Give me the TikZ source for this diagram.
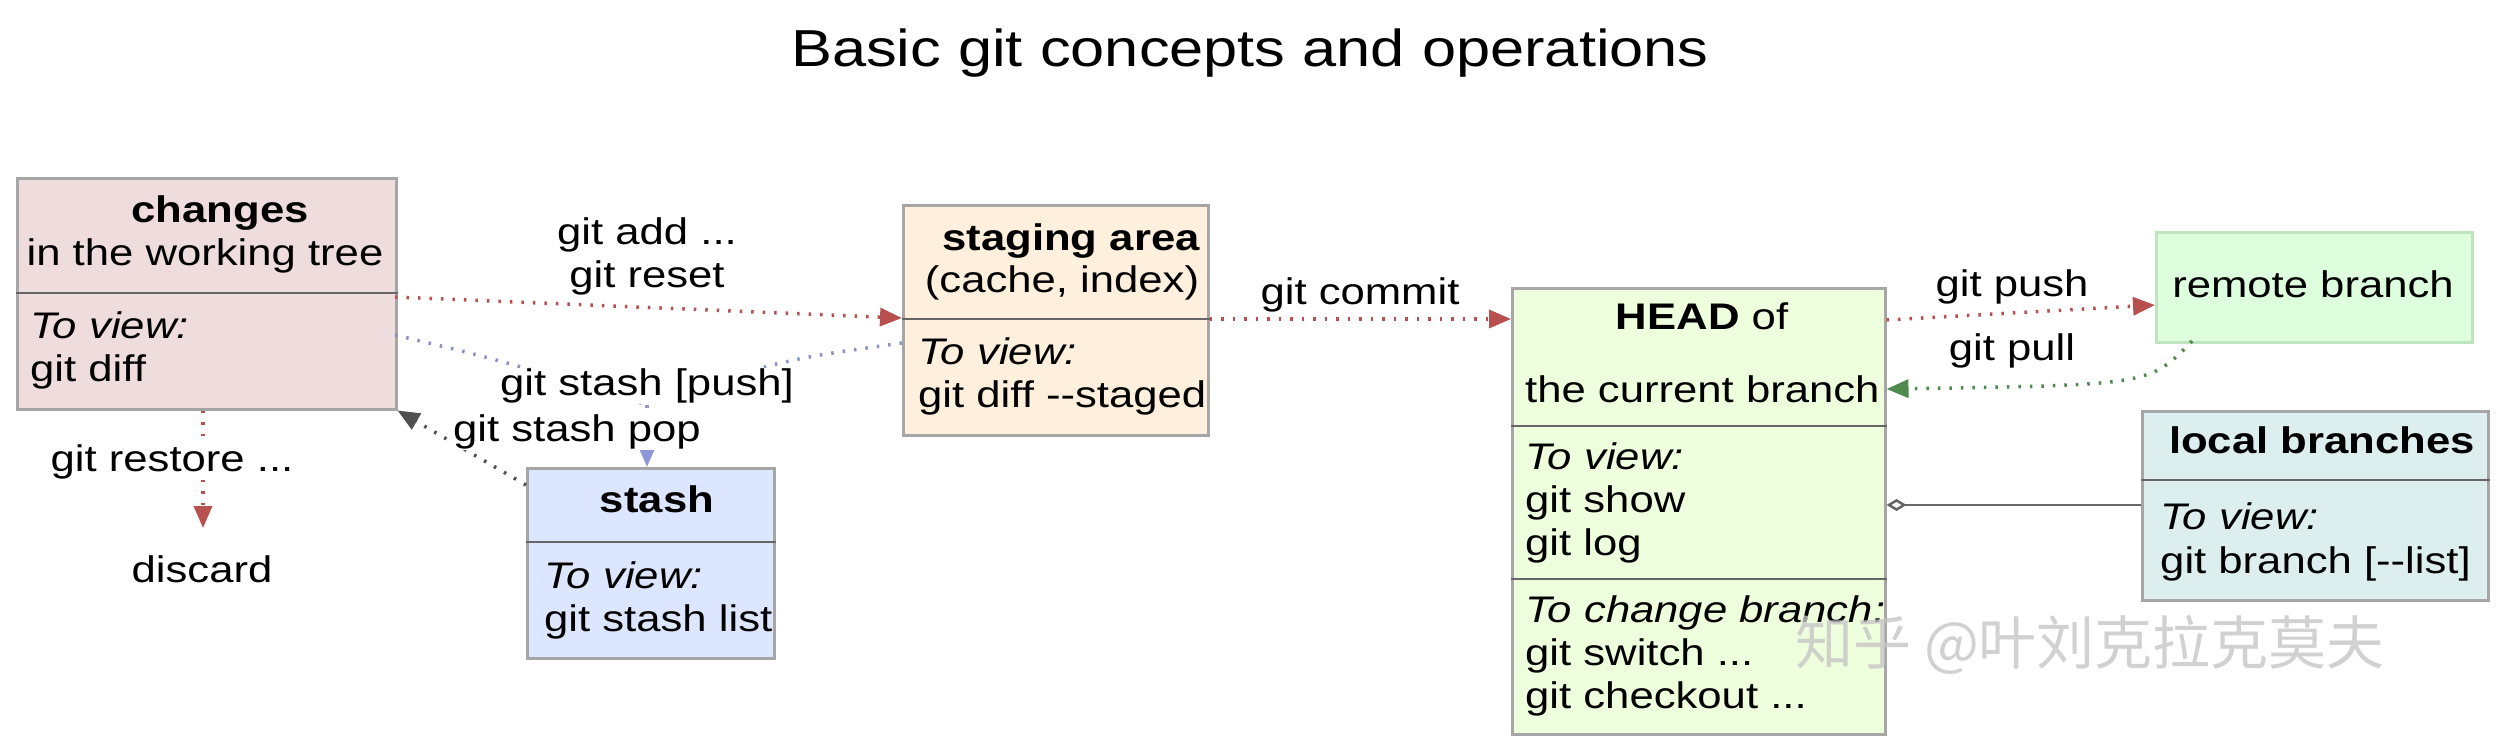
\documentclass[tikz,border=0pt]{standalone}
\usepackage{fontspec}
\setmainfont[FakeStretch=1.18]{Liberation Sans}
\newfontfamily\cjk{Noto Sans CJK SC}
\usetikzlibrary{arrows.meta}
\definecolor{redc}{HTML}{B85050}
\definecolor{bluec}{HTML}{8C96D8}
\definecolor{greenc}{HTML}{4E8A4E}
\definecolor{darkc}{HTML}{505050}
\definecolor{fch}{RGB}{239,221,221}
\definecolor{fst}{RGB}{255,239,221}
\definecolor{fsh}{RGB}{221,230,255}
\definecolor{fhd}{RGB}{238,255,221}
\definecolor{frm}{RGB}{221,255,221}
\definecolor{drm}{RGB}{190,230,190}
\definecolor{flc}{RGB}{221,238,238}
\tikzset{
  box/.style={draw=#1, line width=2.5pt, anchor=north west, inner sep=0},
  dividr/.style={draw=gray!80!black, line width=2.5pt},
  txt/.style={font=\fontsize{37}{43}\selectfont, inner sep=0},
  lbl/.style={font=\fontsize{37}{43}\selectfont, inner sep=2pt},
  dots/.style={line width=3.5pt, dash pattern=on 2.5pt off 9pt},
  tip/.style={-{Triangle[length=22pt,width=18pt]}}
}
\begin{document}
\begin{tikzpicture}[x=1pt,y=-1pt]
\useasboundingbox (0,0) rectangle (2500,744);
\node[font=\fontsize{52}{60}\selectfont] (title) at (1250,53) {Basic git concepts and operations};
% boxes
\node[box=gray!70, fill=fch, minimum width=379pt, minimum height=231pt] (ch) at (16,177) {};
\node[box=gray!70, fill=fst, minimum width=305pt, minimum height=230pt] (st) at (902,204) {};
\node[box=gray!70, fill=fsh, minimum width=247pt, minimum height=190pt] (sh) at (526,467) {};
\node[box=gray!70, fill=fhd, minimum width=373pt, minimum height=446pt] (hd) at (1511,287) {};
\node[box=drm, fill=frm, minimum width=316pt, minimum height=110pt] (rm) at (2155,231) {};
\node[box=gray!70, fill=flc, minimum width=346pt, minimum height=189pt] (lc) at (2141,410) {};
% dividers
\draw[dividr] (ch.west |- 0,293) -- (ch.east |- 0,293);
\draw[dividr] (st.west |- 0,319) -- (st.east |- 0,319);
\draw[dividr] (sh.west |- 0,542) -- (sh.east |- 0,542);
\draw[dividr] (hd.west |- 0,426) -- (hd.east |- 0,426);
\draw[dividr] (hd.west |- 0,579) -- (hd.east |- 0,579);
\draw[dividr] (lc.west |- 0,480) -- (lc.east |- 0,480);
% texts
\node[txt, anchor=base] (t1) at (220,222) {\bfseries changes};
\node[txt, anchor=base] (t2) at (205,265) {in the working tree};
\node[txt, anchor=base west] (t3) at (30,338) {\itshape To view:};
\node[txt, anchor=base west] (t4) at (30,381) {git diff};
\node[txt, anchor=base] (t5) at (1071,250) {\bfseries staging area};
\node[txt, anchor=base] (t6) at (1062,292) {(cache, index)};
\node[txt, anchor=base west] (t7) at (918,364) {\itshape To view:};
\node[txt, anchor=base west] (t8) at (918,407) {git diff -{}-staged};
\node[txt, anchor=base] (t9) at (657,512) {\bfseries stash};
\node[txt, anchor=base west] (t10) at (544,588) {\itshape To view:};
\node[txt, anchor=base west] (t11) at (544,631) {git stash list};
\node[txt, anchor=base] (t12) at (1702,329) {\bfseries HEAD\mdseries\ of};
\node[txt, anchor=base west] (t13) at (1525,402) {the current branch};
\node[txt, anchor=base west] (t14) at (1525,469) {\itshape To view:};
\node[txt, anchor=base west] (t15) at (1525,512) {git show};
\node[txt, anchor=base west] (t16) at (1525,555) {git log};
\node[txt, anchor=base west] (t17) at (1525,622) {\itshape To change branch:};
\node[txt, anchor=base west] (t18) at (1525,665) {git switch ...};
\node[txt, anchor=base west] (t19) at (1525,708) {git checkout ...};
\node[txt, anchor=base] (t20) at (2313,297) {remote branch};
\node[txt, anchor=base] (t21) at (2322,453) {\bfseries local branches};
\node[txt, anchor=base west] (t22) at (2160,529) {\itshape To view:};
\node[txt, anchor=base west] (t23) at (2160,573) {git branch [-{}-list]};
\node[txt] (discard) at (202,569) {discard};
% connectors
\coordinate (c1) at (395,297);
\coordinate (c2) at (902,318);
\draw[dots, redc, tip] (c1) -- (c2);
\node[lbl, align=center] (ladd) at (647,256) {git add ...\\git reset};
\coordinate (p1) at (395,335);
\coordinate (p2) at (902,343);
\coordinate (pm) at (647,405);
\draw[dots, bluec!80!gray] (p1) .. controls (500,360) .. (pm);
\draw[dots, bluec!80!gray] (p2) .. controls (780,360) .. (pm);
\draw[dots, bluec, tip] (pm) -- (sh.north -| 647,0);
\node[lbl, fill=white, inner sep=1pt] (lpush) at (647,386) {git stash [push]};
\coordinate (q1) at (526,485);
\draw[dots, darkc, tip] (q1) -- (ch.south east);
\node[lbl, fill=white, inner sep=1pt] (lpop) at (577,432) {git stash pop};
\draw[dots, redc, tip] (ch.south -| 203,0) -- (203,528);
\node[lbl, fill=white, inner sep=1pt] (lres) at (172,462) {git restore ...};
\draw[dots, redc, tip] (st.east |- 0,319) -- (hd.west |- 0,319);
\node[lbl] (lcom) at (1360,295) {git commit};
\draw[dots, redc, tip] (hd.east |- 0,320) -- (rm.west |- 0,305);
\node[lbl] (lpsh) at (2012,287) {git push};
\coordinate (r1) at (2192,341);
\draw[dots, greenc, tip] (r1) .. controls (2150,385) .. (hd.east |- 0,389);
\node[lbl] (lpul) at (2012,351) {git pull};
\draw[line width=2.5pt, gray!80!black, -{Diamond[open,length=20pt,width=12pt,fill=white]}] (lc.west |- 0,505) -- (hd.east |- 0,505);
\node[font=\cjk\fontsize{58}{64}\selectfont, text=gray!45, opacity=0.8] (wm) at (2090,645) {知乎 @叶刘克拉克莫夫};
\end{tikzpicture}
\end{document}
